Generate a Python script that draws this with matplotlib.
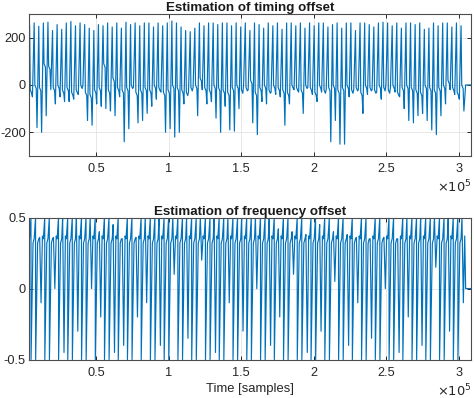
import numpy as np
import matplotlib
matplotlib.use("Agg")
import matplotlib.pyplot as plt
from matplotlib.ticker import FuncFormatter

plt.rcParams['font.family'] = ['Liberation Sans', 'DejaVu Sans']
plt.rcParams['axes.unicode_minus'] = False

# sample range covered by the estimates
sample_start = 4000
sample_end = 304600
sample_last = 308500

# timing offset: per cycle peak, plateau and trough values
timing_peaks = [250, 262, 248, 262, 265, 230, 255, 235, 262, 268,
                250, 262, 255, 240, 230, 255, 250, 262, 245, 262,
                240, 265, 255, 262, 250, 262, 262, 245, 262, 250,
                262, 270, 262, 245, 230, 225, 240, 262, 250, 262,
                262, 255, 262, 262, 250, 262, 245, 262, 230, 262,
                255, 240, 262, 250, 262, 235, 262, 262, 250, 262,
                240, 262, 250, 262, 262, 245, 255, 262, 240, 262,
                262, 230, 262, 262, 255, 245, 262, 265, 262, 250,
                262, 240, 262, 262, 255, 262, 235, 240, 262, 250,
                262, 262, 245, 262, 250]
timing_mids = [-20, 0, -10, 90, 80, -10, 0, -20, -10, -30,
               -20, 0, -30, -40, -20, -10, 90, -20, 30, -10,
               -20, -10, 0, -30, -20, -10, -20, 0, -10, -30,
               -20, 0, -10, -20, -30, -10, 0, 30, -10, -20,
               0, -10, -20, -30, -10, 0, -20, -10, 20, -30,
               -10, 0, -20, 0, -10, -20, -30, 0, -10, -20,
               0, -10, -30, 0, -20, -10, 0, -20, -10, 0,
               -20, -10, -30, 0, -10, -20, 0, -10, -20, 0,
               -30, -10, 0, -10, -20, -30, 0, -10, -20, -10,
               0, 20, -10, -30, 0]
timing_troughs = [-50, -180, -200, -130, -20, -80, -50, -70, -70, -60,
                  -40, 0, -150, -170, -80, -90, -100, -110, -130, -50,
                  -240, -185, -10, -160, -150, -120, -90, -60, -30, -200,
                  -185, -220, -200, -80, -30, -10, -130, -20, -80, -70,
                  -140, -200, -90, -190, -195, -100, 0, -20, -160, -210,
                  -70, -80, -30, -40, -50, -170, -80, -20, -30, -120,
                  -10, -40, -70, -30, -20, -240, -150, -250, -250, -50,
                  -20, -20, -120, -40, -20, -30, -60, 0, -10, -30,
                  -50, -100, -150, -160, -130, -120, -150, -190, -210, -130,
                  -80, -20, -40, -60, -110]

# frequency offset: per event local top and dip (-0.5 means the estimate wraps)
freq_tops = [0.38, 0.5, 0.36, 0.45, 0.5, 0.36, 0.4, 0.5, 0.35, 0.42,
             0.5, 0.36, 0.38, 0.5, 0.35, 0.4, 0.5, 0.36, 0.45, 0.5,
             0.35, 0.38, 0.5, 0.36, 0.42, 0.5, 0.35, 0.4, 0.5, 0.36,
             0.38, 0.5, 0.35, 0.45, 0.5, 0.36, 0.4, 0.5, 0.35, 0.38,
             0.5, 0.36, 0.42, 0.5, 0.35, 0.4, 0.5, 0.36, 0.45, 0.5,
             0.35, 0.38, 0.5, 0.36, 0.42, 0.5, 0.35, 0.4, 0.5, 0.36,
             0.38, 0.5, 0.35, 0.45, 0.5, 0.36, 0.4, 0.5, 0.35, 0.38,
             0.5, 0.36, 0.42, 0.5, 0.35, 0.4, 0.5, 0.36, 0.45, 0.5,
             0.35, 0.38, 0.5, 0.36, 0.42, 0.5, 0.35, 0.4, 0.5, 0.36,
             0.38, 0.5, 0.35, 0.45, 0.5]
freq_dips = [-0.5, -0.5, -0.1, -0.5, -0.5, 0.0, -0.5, -0.45, -0.5, -0.5,
             -0.3, -0.5, -0.5, 0.0, -0.5, -0.2, -0.5, -0.5, -0.45, -0.5,
             -0.4, -0.5, -0.5, -0.2, -0.5, -0.1, -0.5, -0.5, -0.4, -0.5,
             -0.5, 0.1, -0.5, -0.5, -0.35, -0.5, -0.5, 0.2, -0.5, -0.5,
             -0.45, -0.5, -0.5, -0.1, -0.5, -0.5, -0.3, -0.5, -0.5, 0.0,
             -0.5, -0.5, -0.4, -0.5, -0.2, -0.5, -0.5, 0.1, -0.5, -0.5,
             -0.45, -0.5, -0.5, -0.3, -0.5, -0.5, 0.05, -0.5, -0.5, -0.4,
             -0.5, -0.1, -0.5, -0.5, -0.35, -0.5, -0.5, 0.0, -0.5, -0.5,
             -0.45, -0.5, -0.2, -0.5, -0.5, -0.4, -0.5, -0.5, 0.15, -0.5,
             -0.5, -0.3, -0.5, -0.5, -0.1]
freq_base = 0.35

line_color = '#0072BD'


def build_timing():
    n = len(timing_peaks)
    p = (sample_end - sample_start) / n
    xs, ys = [], []
    for i in range(n):
        x0 = sample_start + i * p
        xs += [x0, x0 + 0.15 * p, x0 + 0.45 * p, x0 + 0.62 * p]
        ys += [timing_peaks[i], timing_mids[i], timing_mids[i] - 15, timing_troughs[i]]
    xs += [sample_end, sample_last]
    ys += [0, 0]
    return np.array(xs), np.array(ys)


def build_freq():
    n = len(freq_dips)
    p = (sample_end - sample_start) / n
    xs, ys = [], []
    for i in range(n):
        x0 = sample_start + i * p
        if freq_dips[i] <= -0.5:
            xs += [x0, x0 + 0.3 * p, x0 + 0.32 * p, x0 + 0.75 * p]
            ys += [freq_base, 0.5, -0.5, freq_base - 0.03]
        else:
            xs += [x0, x0 + 0.2 * p, x0 + 0.5 * p, x0 + 0.8 * p]
            ys += [freq_base, freq_tops[i], freq_dips[i], freq_base + 0.02]
    xs += [sample_end, sample_last]
    ys += [0, 0]
    return np.array(xs), np.array(ys)


def style_axes(ax, yticks, ylim, title):
    ax.set_xlim(3800, sample_last)
    ax.set_ylim(*ylim)
    ax.set_yticks(yticks)
    ax.set_xticks([0.5e5, 1e5, 1.5e5, 2e5, 2.5e5, 3e5])
    ax.xaxis.set_major_formatter(FuncFormatter(lambda v, pos: f"{v / 1e5:g}"))
    ax.yaxis.set_major_formatter(FuncFormatter(lambda v, pos: f"{v:g}"))
    ax.grid(True, color='#e3e3e3', linewidth=0.6)
    ax.set_axisbelow(True)
    ax.tick_params(direction='in', length=3, width=0.7, top=True, right=True,
                   labelsize=9.2, colors='#262626', pad=5)
    ax.tick_params(axis='y', pad=2.5)
    for s in ax.spines.values():
        s.set_color('#4d4d4d')
        s.set_linewidth(0.8)
    ax.set_title(title, fontsize=9.6, fontweight='bold', pad=2, color='#1a1a1a')
    ax.text(1.0, -0.22, r'$\times10^5$', transform=ax.transAxes, ha='right',
            va='center', fontsize=9.4, color='#262626')


fig = plt.figure(figsize=(4.74, 3.98), dpi=100)
ax1 = fig.add_axes([0.0618, 0.608, 0.9325, 0.357])
ax2 = fig.add_axes([0.0618, 0.0965, 0.9325, 0.357])

tx, ty = build_timing()
ax1.plot(tx, ty, color=line_color, linewidth=0.85)
style_axes(ax1, [-200, 0, 200], (-300, 300), 'Estimation of timing offset')

fx, fy = build_freq()
ax2.plot(fx, fy, color=line_color, linewidth=0.85)
style_axes(ax2, [-0.5, 0, 0.5], (-0.5, 0.5), 'Estimation of frequency offset')
ax2.set_xlabel('Time [samples]', fontsize=9.4, labelpad=3, color='#262626')

fig.savefig('out.png', dpi=100)
